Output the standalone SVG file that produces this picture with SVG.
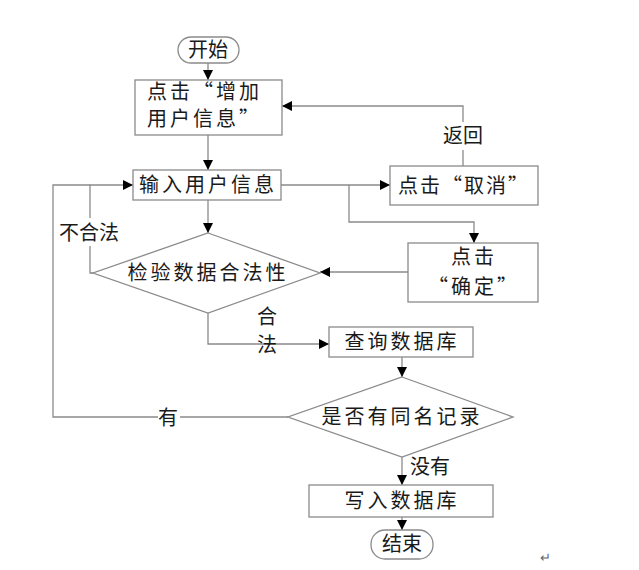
<svg xmlns="http://www.w3.org/2000/svg" width="639" height="570" viewBox="0 0 639 570">
<defs>
<marker id="arr" viewBox="0 0 10 10" refX="10" refY="5" markerWidth="10" markerHeight="10" markerUnits="userSpaceOnUse" orient="auto">
<path d="M0,0 L10,5 L0,10 z" fill="#000"/>
</marker>
<style>
.box{fill:#fff;stroke:#8a8a8a;stroke-width:1.3}
.ln{fill:none;stroke:#8a8a8a;stroke-width:1.3}
.ar{marker-end:url(#arr)}
text{font-family:"Noto Sans CJK SC","Noto Sans",sans-serif;font-size:20px;fill:#1a1a1a}
.c{text-anchor:middle}
.bg{fill:#fff}
</style>
</defs>
<rect width="639" height="570" fill="#fff"/>
<g id="connectors">
<path class="ln ar" d="M208,62 V80"/>
<path class="ln ar" d="M208,135 V170"/>
<path class="ln ar" d="M463,166 V106 H282"/>
<path class="ln ar" d="M281,185 H390"/>
<path class="ln ar" d="M349,185 V222 H474 V243"/>
<path class="ln ar" d="M408,272 H320"/>
<path class="ln ar" d="M208,200 V233"/>
<path class="ln ar" d="M93,273 H90 V185 H133"/>
<path class="ln" d="M288,417 H53 V185 H90"/>
<path class="ln ar" d="M208,313 V344 H329"/>
<path class="ln ar" d="M402,357 V377"/>
<path class="ln ar" d="M402,457 V485"/>
<path class="ln ar" d="M402,517 V530"/>
<rect class="bg" x="441" y="122" width="44" height="28"/>
<text class="c" x="463" y="143">返回</text>
<rect class="bg" x="56" y="218" width="66" height="28"/>
<text class="c" x="89" y="240">不合法</text>
<rect class="bg" x="158" y="405" width="22" height="26"/>
<text class="c" x="168" y="425">有</text>
<text class="c" x="267" y="324">合</text>
<text class="c" x="267" y="352">法</text>
<text x="410" y="474">没有</text>
</g>
<g id="start">
<rect class="box" x="178" y="37" width="61" height="26" rx="13"/>
<text class="c" x="208" y="57">开始</text>
</g>
<g id="add">
<rect class="box" x="135" y="80" width="147" height="55"/>
<text x="147" y="99" letter-spacing="3">点击“增加</text>
<text x="147" y="126" letter-spacing="3">用户信息”</text>
</g>
<g id="input">
<rect class="box" x="133" y="170" width="148" height="30"/>
<text class="c" x="208" y="192" letter-spacing="3">输入用户信息</text>
</g>
<g id="cancel">
<rect class="box" x="390" y="166" width="148" height="39"/>
<text class="c" x="464" y="193" letter-spacing="2">点击“取消”</text>
</g>
<g id="confirm">
<rect class="box" x="408" y="243" width="130" height="59"/>
<text class="c" x="474" y="264" letter-spacing="3">点击</text>
<text class="c" x="474" y="294" letter-spacing="3">“确定”</text>
</g>
<g id="check">
<polygon class="box" points="208,233 320,273 208,313 93,273"/>
<text class="c" x="208" y="280" letter-spacing="3">检验数据合法性</text>
</g>
<g id="query">
<rect class="box" x="329" y="327" width="144" height="30"/>
<text class="c" x="402" y="349" letter-spacing="3">查询数据库</text>
</g>
<g id="dup">
<polygon class="box" points="402,377 513,417 402,457 288,417"/>
<text class="c" x="402" y="424" letter-spacing="3">是否有同名记录</text>
</g>
<g id="write">
<rect class="box" x="309" y="485" width="184" height="32"/>
<text class="c" x="402" y="508" letter-spacing="3">写入数据库</text>
</g>
<g id="end">
<rect class="box" x="371" y="530" width="62" height="29" rx="14"/>
<text class="c" x="402" y="551">结束</text>
</g>
<text x="540" y="562" style="font-size:13px;fill:#666">↵</text>
</svg>
